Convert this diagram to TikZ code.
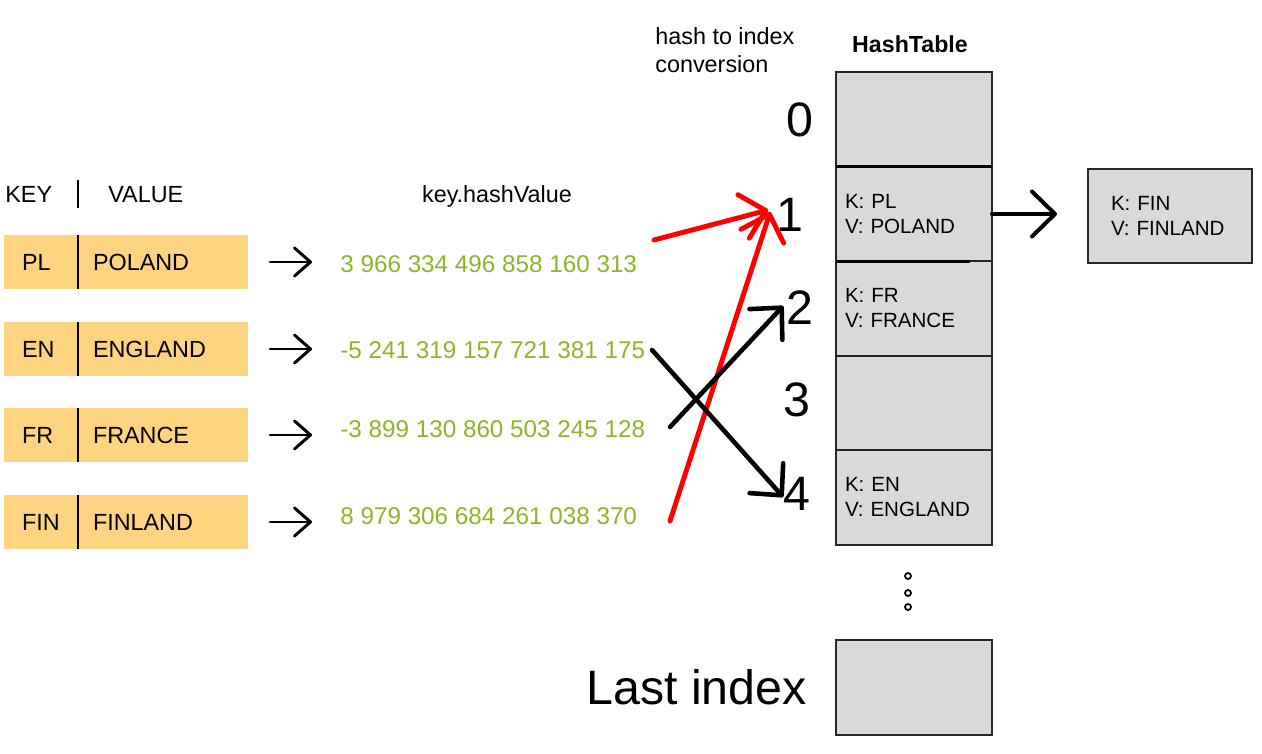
\documentclass[tikz,border=0pt]{standalone}
\usepackage{fontspec}
\setmainfont{Liberation Sans}
\usetikzlibrary{positioning,arrows.meta,calc}
\definecolor{keyorange}{RGB}{255,211,127}
\definecolor{hashgreen}{RGB}{141,181,42}
\definecolor{cellgray}{RGB}{217,217,217}
\definecolor{hashred}{RGB}{255,0,0}

\begin{document}
\begin{tikzpicture}[
    keycell/.style={rectangle, fill=keyorange, outer sep=0pt, minimum width=1.48cm, minimum height=1.08cm,
        text width=0.76cm, inner xsep=0.36cm, align=left, font=\fontsize{13.3}{16}\selectfont},
    valcell/.style={rectangle, fill=keyorange, outer sep=0pt, minimum width=3.4cm, minimum height=1.08cm,
        text width=2.8cm, inner xsep=0.3cm, align=left, font=\fontsize{13.3}{16}\selectfont},
    hashval/.style={anchor=west, inner sep=0pt, text=hashgreen, font=\fontsize{13.8}{16}\selectfont},
    slot/.style={rectangle, draw=black!85, line width=1.1pt, fill=cellgray, outer sep=0pt,
        minimum width=3.12cm, minimum height=1.89cm, text width=2.76cm, inner xsep=0.18cm,
        align=left, font=\fontsize{11.7}{14.2}\selectfont},
    head/.style={inner sep=0pt, font=\fontsize{13.3}{16}\selectfont},
    index/.style={inner sep=0pt, font=\fontsize{27.5}{32}\selectfont},
    maparrow/.style={-{Straight Barb[length=0.32cm, width=0.56cm, round]}, line width=1.7pt, line cap=round},
    jump/.style={-{Straight Barb[length=0.46cm, width=0.9cm, round]}, line width=2.6pt, line cap=round},
]
    \useasboundingbox (0,0) rectangle (25.24,-15.08);

    % headings
    \node[head, anchor=base west] (keyhead) at (0.1,-4.06) {KEY};
    \node[head, anchor=base west] (valhead) at (2.16,-4.06) {VALUE};
    \draw[line width=1pt] (1.56,-3.6) -- (1.56,-4.16);
    \node[head, anchor=base] (hashhead) at (9.94,-4.06) {key.hashValue};
    \node[head, anchor=north west, align=left, font=\fontsize{13.3}{15.9}\selectfont] (convhead) at (13.1,-0.54) {hash to index\\conversion};
    \node[head, anchor=base, font=\fontsize{13.2}{16}\selectfont\bfseries] (tablehead) at (18.2,-1.06) {HashTable};

    % key / value pairs
    \node[keycell] (k1) at (0.82,-5.24) {PL};
    \node[valcell, right=0pt of k1] (v1) {POLAND};
    \node[keycell] (k2) at (0.82,-6.98) {EN};
    \node[valcell, right=0pt of k2] (v2) {ENGLAND};
    \node[keycell] (k3) at (0.82,-8.70) {FR};
    \node[valcell, right=0pt of k3] (v3) {FRANCE};
    \node[keycell] (k4) at (0.82,-10.44) {FIN};
    \node[valcell, right=0pt of k4] (v4) {FINLAND};

    \draw[line width=1.1pt] (k1.north east) -- (k1.south east);
    \draw[line width=1.1pt] (k2.north east) -- (k2.south east);
    \draw[line width=1.1pt] (k3.north east) -- (k3.south east);
    \draw[line width=1.1pt] (k4.north east) -- (k4.south east);

    % hash values
    \node[hashval] (h1) at (6.8,-5.28) {3 966 334 496 858 160 313};
    \node[hashval] (h2) at (6.8,-7.0) {-5 241 319 157 721 381 175};
    \node[hashval] (h3) at (6.8,-8.58) {-3 899 130 860 503 245 128};
    \node[hashval] (h4) at (6.8,-10.32) {8 979 306 684 261 038 370};

    \draw[maparrow] ($(v1.east)+(0.44,0)$) -- ($(v1.east -| h1.west)+(-0.56,0)$);
    \draw[maparrow] ($(v2.east)+(0.44,0)$) -- ($(v2.east -| h2.west)+(-0.56,0)$);
    \draw[maparrow] ($(v3.east)+(0.44,0)$) -- ($(v3.east -| h3.west)+(-0.56,0)$);
    \draw[maparrow] ($(v4.east)+(0.44,0)$) -- ($(v4.east -| h4.west)+(-0.56,0)$);

    % hash table
    \node[slot] (s0) at (18.28,-2.39) {};
    \node[slot, below=0pt of s0] (s1) {K: PL\\V: POLAND};
    \node[slot, below=0pt of s1] (s2) {K: FR\\V: FRANCE};
    \node[slot, below=0pt of s2] (s3) {};
    \node[slot, below=0pt of s3] (s4) {K: EN\\V: ENGLAND};
    \node[slot] (slast) at (18.28,-13.75) {};
    \draw[line width=1.7pt] (s0.south west) -- (s0.south east);
    \draw[line width=1.7pt] (s1.south west) -- ([xshift=-0.44cm]s1.south east);

    \foreach \y in {-11.52,-11.86,-12.14}
        \draw[line width=1pt] (18.16,\y) circle (0.06);

    \node[slot, minimum width=3.28cm, minimum height=1.88cm, text width=2.36cm, inner xsep=0.46cm] (fin) at (23.4,-4.32) {K: FIN\\V: FINLAND};
    \draw[jump, line width=2.3pt] (s1.east) -- ($(s1.east -| fin.west)+(-0.62,0)$);

    % indices
    \node[index] (i0) at (16.0,-2.4) {0};
    \node[index] (i1) at (15.8,-4.3) {1};
    \node[index] (i2) at (16.0,-6.16) {2};
    \node[index] (i3) at (15.94,-8.0) {3};
    \node[index] (i4) at (15.94,-9.88) {4};
    \node[index, anchor=east] (ilast) at (16.14,-13.74) {Last index};

    % hash to index
    \coordinate (plstart) at (13.08,-4.8);
    \coordinate (finstart) at (13.4,-10.42);
    \coordinate (enstart) at (13.04,-7.0);
    \coordinate (frstart) at (13.4,-8.54);
    \draw[jump, hashred, line width=2.8pt] (plstart) -- ($(i1.west)+(-0.16,0.1)$);
    \draw[jump, hashred, line width=2.8pt] (finstart) -- ($(i1.west)+(-0.12,0.06)$);
    \draw[jump] (enstart) -- ($(i4.west)+(0,-0.06)$);
    \draw[jump] (frstart) -- ($(i2.west)+(-0.06,0.04)$);
\end{tikzpicture}
\end{document}
